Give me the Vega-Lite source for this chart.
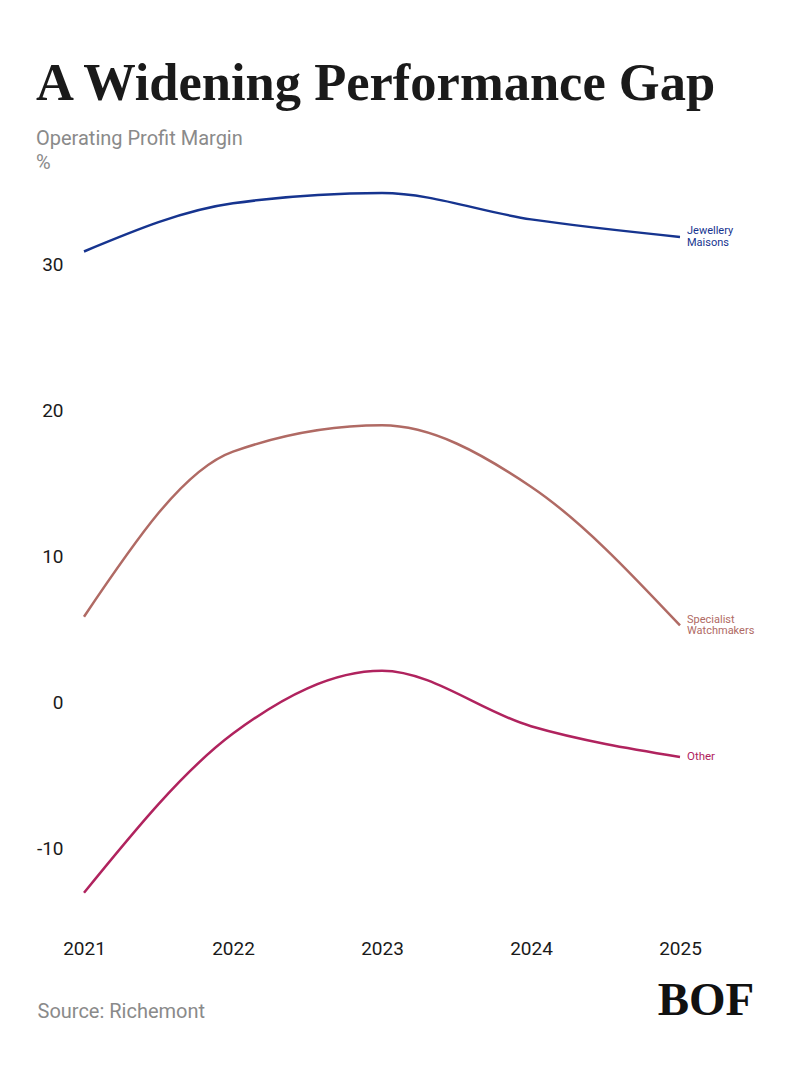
{
  "$schema": "https://vega.github.io/schema/vega-lite/v6.json",
  "width": 596,
  "height": 745,
  "autosize": {"type": "none"},
  "padding": {"left": 84, "top": 177, "right": 120, "bottom": 144},
  "background": "white",
  "title": {
    "text": "A Widening Performance Gap",
    "subtitle": ["Operating Profit Margin", "%"],
    "anchor": "start",
    "frame": "group",
    "dx": -48,
    "offset": 3,
    "font": "Liberation Serif",
    "fontSize": 52.5,
    "fontWeight": "bold",
    "color": "#1a1a1a",
    "subtitleFont": "Roboto",
    "subtitleFontSize": 20,
    "subtitleColor": "#8a8a8a",
    "subtitleLineHeight": 24,
    "subtitlePadding": 18
  },
  "datasets": {
    "margins": [
      {"segment": "Jewellery Maisons", "label": "Jewellery\nMaisons", "year": 2021, "margin": 30.9},
      {"segment": "Jewellery Maisons", "label": "Jewellery\nMaisons", "year": 2022, "margin": 34.2},
      {"segment": "Jewellery Maisons", "label": "Jewellery\nMaisons", "year": 2023, "margin": 34.9},
      {"segment": "Jewellery Maisons", "label": "Jewellery\nMaisons", "year": 2024, "margin": 33.1},
      {"segment": "Jewellery Maisons", "label": "Jewellery\nMaisons", "year": 2025, "margin": 31.9},
      {"segment": "Specialist Watchmakers", "label": "Specialist\nWatchmakers", "year": 2021, "margin": 5.9},
      {"segment": "Specialist Watchmakers", "label": "Specialist\nWatchmakers", "year": 2022, "margin": 17.2},
      {"segment": "Specialist Watchmakers", "label": "Specialist\nWatchmakers", "year": 2023, "margin": 19.0},
      {"segment": "Specialist Watchmakers", "label": "Specialist\nWatchmakers", "year": 2024, "margin": 14.8},
      {"segment": "Specialist Watchmakers", "label": "Specialist\nWatchmakers", "year": 2025, "margin": 5.3},
      {"segment": "Other", "label": "Other", "year": 2021, "margin": -13.0},
      {"segment": "Other", "label": "Other", "year": 2022, "margin": -2.1},
      {"segment": "Other", "label": "Other", "year": 2023, "margin": 2.2},
      {"segment": "Other", "label": "Other", "year": 2024, "margin": -1.6},
      {"segment": "Other", "label": "Other", "year": 2025, "margin": -3.7}
    ],
    "brand": [{"brand": "BOF"}]
  },
  "layer": [
    {
      "data": {"name": "margins"},
      "encoding": {
        "x": {
          "field": "year",
          "type": "quantitative",
          "scale": {"domain": [2021, 2025]},
          "axis": {
            "values": [2021, 2022, 2023, 2024, 2025],
            "format": "d",
            "labelFont": "Roboto",
            "labelFontSize": 19,
            "labelColor": "#1a1a1a",
            "labelPadding": 17,
            "labelFlush": false,
            "ticks": false,
            "domain": false,
            "grid": false,
            "title": "Source: Richemont",
            "titleFont": "Roboto",
            "titleFontSize": 20,
            "titleFontWeight": "normal",
            "titleColor": "#8a8a8a",
            "titleAnchor": "start",
            "titleAlign": "left",
            "titleBaseline": "alphabetic",
            "titleX": -47,
            "titleY": 95
          }
        },
        "y": {
          "field": "margin",
          "type": "quantitative",
          "scale": {"domain": [-15, 36]},
          "axis": {
            "values": [-10, 0, 10, 20, 30],
            "labelExpr": "datum.value < 0 ? '-' + abs(datum.value) : '' + datum.value",
            "labelFont": "Roboto",
            "labelFontSize": 19,
            "labelColor": "#1a1a1a",
            "labelPadding": 21,
            "ticks": false,
            "domain": false,
            "grid": false,
            "title": null
          }
        },
        "color": {
          "field": "segment",
          "type": "nominal",
          "scale": {
            "domain": ["Jewellery Maisons", "Specialist Watchmakers", "Other"],
            "range": ["#16348f", "#b06a64", "#b0235e"]
          },
          "legend": null
        }
      },
      "layer": [
        {
          "mark": {"type": "line", "interpolate": "monotone", "strokeWidth": 2.5}
        },
        {
          "transform": [{"filter": "datum.year == 2025 && datum.segment != 'Other'"}],
          "mark": {
            "type": "text",
            "align": "left",
            "baseline": "middle",
            "dx": 7,
            "dy": -5.75,
            "font": "Roboto",
            "fontSize": 11,
            "lineBreak": "\n",
            "lineHeight": 11.5
          },
          "encoding": {"text": {"field": "label", "type": "nominal"}}
        },
        {
          "transform": [{"filter": "datum.year == 2025 && datum.segment == 'Other'"}],
          "mark": {
            "type": "text",
            "align": "left",
            "baseline": "middle",
            "dx": 7,
            "font": "Roboto",
            "fontSize": 11.5
          },
          "encoding": {"text": {"field": "label", "type": "nominal"}}
        }
      ]
    },
    {
      "data": {"name": "brand"},
      "mark": {
        "type": "text",
        "align": "center",
        "baseline": "alphabetic",
        "dx": 26,
        "font": "Liberation Serif",
        "fontSize": 47,
        "fontWeight": "bold",
        "fill": "#111111"
      },
      "encoding": {
        "x": {"datum": 2025, "type": "quantitative", "scale": {"domain": [2021, 2025]}},
        "y": {"datum": -21.4, "type": "quantitative", "scale": {"domain": [-15, 36]}},
        "text": {"field": "brand", "type": "nominal"}
      }
    }
  ],
  "config": {"view": {"stroke": null}}
}
